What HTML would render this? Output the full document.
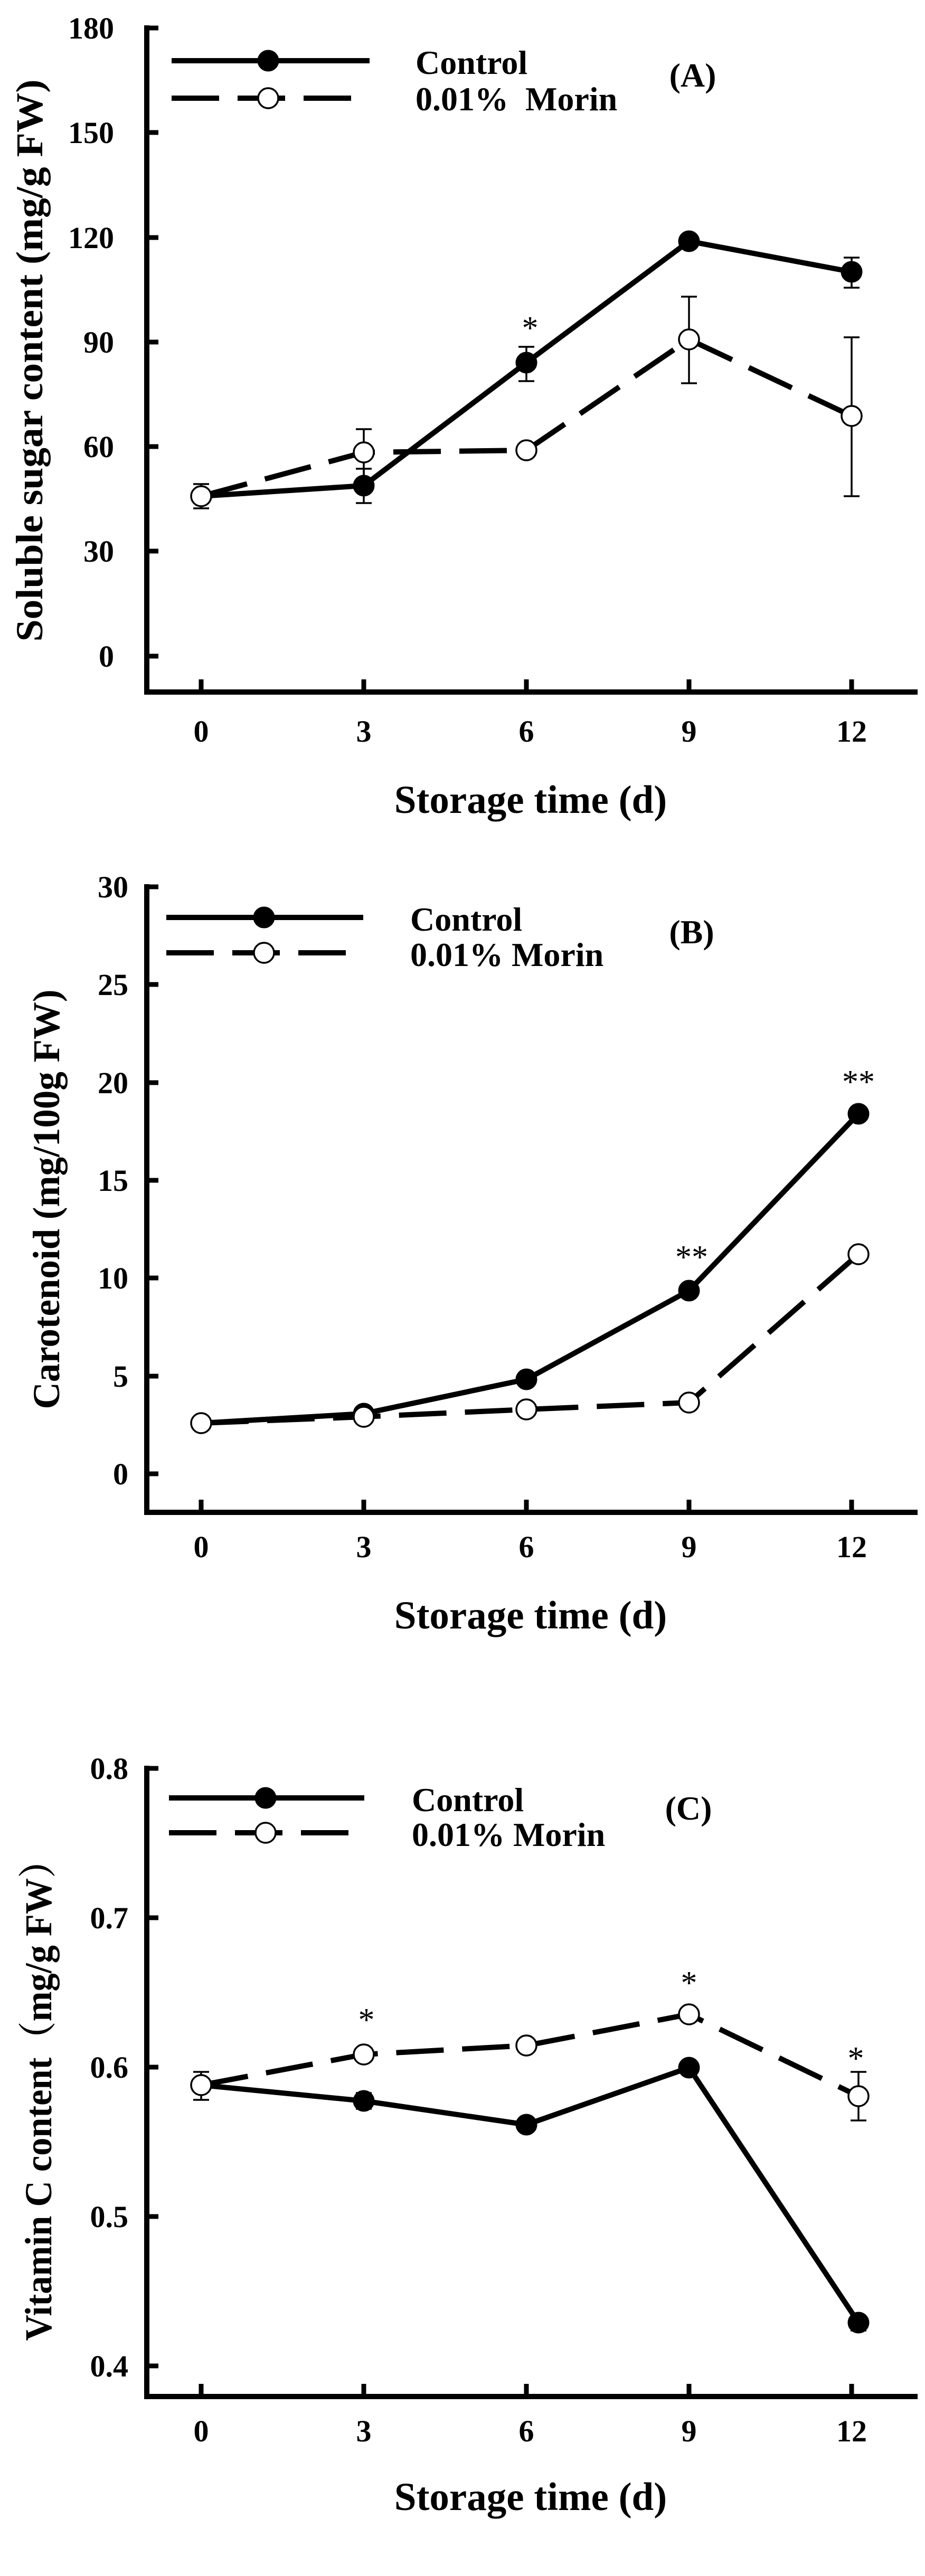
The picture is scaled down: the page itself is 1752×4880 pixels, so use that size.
<!DOCTYPE html>
<html><head><meta charset="utf-8"><style>
html,body{margin:0;padding:0;background:#fff;}
svg{display:block;}
text{font-family:"Liberation Serif","Noto Serif CJK SC",serif;font-weight:bold;fill:#000;}
.ax{stroke:#000;stroke-width:10;fill:none;stroke-linecap:square;}
.tk{stroke:#000;stroke-width:9;fill:none;}
.sl{stroke:#000;stroke-width:10;fill:none;stroke-linejoin:round;}
.dl{stroke:#000;stroke-width:10;fill:none;stroke-dasharray:90 35;}
.eb{stroke:#000;stroke-width:3.5;fill:none;}
.fm{fill:#000;stroke:#000;stroke-width:3;}
.om{fill:#fff;stroke:#000;stroke-width:3.5;}
.tl{font-size:58px;}
.xl{font-size:58px;text-anchor:middle;}
.lg{font-size:64px;}
.at{font-size:75px;text-anchor:middle;}
.st{font-size:62px;text-anchor:middle;font-weight:normal;}
</style></head><body>
<svg width="1752" height="4880" viewBox="0 0 1752 4880" xmlns="http://www.w3.org/2000/svg">
<!-- ================= Panel A ================= -->
<g>
<line class="ax" x1="278" y1="53" x2="278" y2="1311"/>
<line class="ax" x1="278" y1="1311" x2="1733" y2="1311"/>
<g class="tk">
<line x1="278" y1="53" x2="300" y2="53"/><line x1="278" y1="251" x2="300" y2="251"/>
<line x1="278" y1="450" x2="300" y2="450"/><line x1="278" y1="648" x2="300" y2="648"/>
<line x1="278" y1="846" x2="300" y2="846"/><line x1="278" y1="1044" x2="300" y2="1044"/>
<line x1="278" y1="1243" x2="300" y2="1243"/>
<line x1="381" y1="1287" x2="381" y2="1311"/><line x1="689" y1="1287" x2="689" y2="1311"/>
<line x1="997" y1="1287" x2="997" y2="1311"/><line x1="1305" y1="1287" x2="1305" y2="1311"/>
<line x1="1613" y1="1287" x2="1613" y2="1311"/>
</g>
<g class="tl" text-anchor="end">
<text x="216" y="73">180</text><text x="216" y="271">150</text><text x="216" y="470">120</text>
<text x="216" y="668">90</text><text x="216" y="866">60</text><text x="216" y="1064">30</text>
<text x="216" y="1263">0</text>
</g>
<g class="xl">
<text x="381" y="1405">0</text><text x="689" y="1405">3</text><text x="997" y="1405">6</text>
<text x="1305" y="1405">9</text><text x="1613" y="1405">12</text>
</g>
<text class="at" x="1005" y="1540">Storage time (d)</text>
<text font-size="72" text-anchor="middle" transform="translate(80,683) rotate(-90)" textLength="1065" lengthAdjust="spacingAndGlyphs">Soluble sugar content (mg/g FW)</text>
<!-- legend -->
<line class="sl" x1="325" y1="115" x2="700" y2="115"/>
<circle class="fm" cx="508" cy="115" r="19"/>
<line class="dl" x1="325" y1="186" x2="700" y2="186"/>
<circle class="om" cx="508" cy="186" r="19"/>
<text class="lg" x="787" y="140">Control</text>
<text class="lg" x="787" y="209" xml:space="preserve">0.01%  Morin</text>
<text class="lg" x="1312" y="164" text-anchor="middle">(A)</text>
<!-- error bars -->
<g class="eb">
<path d="M381 917V963M366 917H396M366 963H396"/>
<path d="M689 888V953M674 888H704M674 953H704"/>
<path d="M689 813V900M674 813H704"/>
<path d="M997 657V722M982 657H1012M982 722H1012"/>
<path d="M1613 488V545M1598 488H1628M1598 545H1628"/>
<path d="M1305 562V726M1290 562H1320M1290 726H1320"/>
<path d="M1613 639V940M1598 639H1628M1598 940H1628"/>
</g>
<polyline class="dl" points="381,940 689,857 997,853 1305,643 1613,788"/>
<polyline class="sl" points="381,940 689,920 997,687 1305,457 1613,515"/>
<g>
<circle class="fm" cx="381" cy="940" r="19"/><circle class="fm" cx="689" cy="920" r="19"/>
<circle class="fm" cx="997" cy="687" r="19"/><circle class="fm" cx="1305" cy="457" r="19"/>
<circle class="fm" cx="1613" cy="515" r="19"/>
<circle class="om" cx="381" cy="940" r="19"/><circle class="om" cx="689" cy="857" r="19"/>
<circle class="om" cx="997" cy="853" r="19"/><circle class="om" cx="1305" cy="643" r="19"/>
<circle class="om" cx="1613" cy="788" r="19"/>
</g>
<text class="st" x="1004" y="642">*</text>
</g>

<!-- ================= Panel B ================= -->
<g>
<line class="ax" x1="278" y1="1680" x2="278" y2="2865"/>
<line class="ax" x1="278" y1="2865" x2="1733" y2="2865"/>
<g class="tk">
<line x1="278" y1="1680" x2="300" y2="1680"/><line x1="278" y1="1865" x2="300" y2="1865"/>
<line x1="278" y1="2051" x2="300" y2="2051"/><line x1="278" y1="2236" x2="300" y2="2236"/>
<line x1="278" y1="2421" x2="300" y2="2421"/><line x1="278" y1="2607" x2="300" y2="2607"/>
<line x1="278" y1="2792" x2="300" y2="2792"/>
<line x1="381" y1="2841" x2="381" y2="2865"/><line x1="689" y1="2841" x2="689" y2="2865"/>
<line x1="997" y1="2841" x2="997" y2="2865"/><line x1="1305" y1="2841" x2="1305" y2="2865"/>
<line x1="1613" y1="2841" x2="1613" y2="2865"/>
</g>
<g class="tl" text-anchor="end">
<text x="243" y="1700">30</text><text x="243" y="1885">25</text><text x="243" y="2071">20</text>
<text x="243" y="2256">15</text><text x="243" y="2441">10</text><text x="243" y="2627">5</text>
<text x="243" y="2812">0</text>
</g>
<g class="xl">
<text x="381" y="2950">0</text><text x="689" y="2950">3</text><text x="997" y="2950">6</text>
<text x="1305" y="2950">9</text><text x="1613" y="2950">12</text>
</g>
<text class="at" x="1005" y="3085">Storage time (d)</text>
<text font-size="72" text-anchor="middle" transform="translate(112,2272) rotate(-90)" textLength="795" lengthAdjust="spacingAndGlyphs">Carotenoid (mg/100g FW)</text>
<line class="sl" x1="315" y1="1738" x2="688" y2="1738"/>
<circle class="fm" cx="500" cy="1738" r="19"/>
<line class="dl" x1="315" y1="1805" x2="688" y2="1805"/>
<circle class="om" cx="500" cy="1805" r="19"/>
<text class="lg" x="777" y="1763">Control</text>
<text class="lg" x="777" y="1830">0.01% Morin</text>
<text class="lg" x="1310" y="1787" text-anchor="middle">(B)</text>
<polyline class="dl" points="381,2696 689,2684 997,2670 1305,2657 1626,2376"/>
<polyline class="sl" points="381,2696 689,2678 997,2613 1305,2445 1626,2110"/>
<g>
<circle class="fm" cx="381" cy="2696" r="19"/><circle class="fm" cx="689" cy="2678" r="19"/>
<circle class="fm" cx="997" cy="2613" r="19"/><circle class="fm" cx="1305" cy="2445" r="19"/>
<circle class="fm" cx="1626" cy="2110" r="19"/>
<circle class="om" cx="381" cy="2696" r="19"/><circle class="om" cx="689" cy="2684" r="19"/>
<circle class="om" cx="997" cy="2670" r="19"/><circle class="om" cx="1305" cy="2657" r="19"/>
<circle class="om" cx="1626" cy="2376" r="19"/>
</g>
<text class="st" x="1310" y="2402">**</text>
<text class="st" x="1626" y="2070">**</text>
</g>

<!-- ================= Panel C ================= -->
<g>
<line class="ax" x1="278" y1="3350" x2="278" y2="4540"/>
<line class="ax" x1="278" y1="4540" x2="1733" y2="4540"/>
<g class="tk">
<line x1="278" y1="3350" x2="300" y2="3350"/><line x1="278" y1="3633" x2="300" y2="3633"/>
<line x1="278" y1="3916" x2="300" y2="3916"/><line x1="278" y1="4199" x2="300" y2="4199"/>
<line x1="278" y1="4482" x2="300" y2="4482"/>
<line x1="381" y1="4516" x2="381" y2="4540"/><line x1="689" y1="4516" x2="689" y2="4540"/>
<line x1="997" y1="4516" x2="997" y2="4540"/><line x1="1305" y1="4516" x2="1305" y2="4540"/>
<line x1="1613" y1="4516" x2="1613" y2="4540"/>
</g>
<g class="tl" text-anchor="end">
<text x="243" y="3370">0.8</text><text x="243" y="3653">0.7</text><text x="243" y="3936">0.6</text>
<text x="243" y="4219">0.5</text><text x="243" y="4502">0.4</text>
</g>
<g class="xl">
<text x="381" y="4625">0</text><text x="689" y="4625">3</text><text x="997" y="4625">6</text>
<text x="1305" y="4625">9</text><text x="1613" y="4625">12</text>
</g>
<text class="at" x="1005" y="4755">Storage time (d)</text>
<text font-size="72" text-anchor="middle" transform="translate(97,3962) rotate(-90)" textLength="945" lengthAdjust="spacingAndGlyphs">Vitamin C content（mg/g FW）</text>
<line class="sl" x1="320" y1="3406" x2="690" y2="3406"/>
<circle class="fm" cx="503" cy="3406" r="19"/>
<line class="dl" x1="320" y1="3472" x2="690" y2="3472"/>
<circle class="om" cx="503" cy="3472" r="19"/>
<text class="lg" x="780" y="3431">Control</text>
<text class="lg" x="780" y="3497">0.01% Morin</text>
<text class="lg" x="1304" y="3447" text-anchor="middle">(C)</text>
<g class="eb">
<path d="M381 3925V3978M366 3925H396M366 3978H396"/>
<path d="M689 3965V3995M674 3965H704M674 3995H704"/>
<path d="M1626 3925V4017M1611 3925H1641M1611 4017H1641"/>
<path d="M1626 4388V4415M1611 4388H1641M1611 4415H1641"/>
</g>
<polyline class="sl" points="381,3950 689,3980 997,4025 1305,3917 1626,4400"/>
<polyline class="dl" points="381,3950 689,3892 997,3875 1305,3816 1626,3971"/>
<g>
<circle class="fm" cx="381" cy="3950" r="19"/><circle class="fm" cx="689" cy="3980" r="19"/>
<circle class="fm" cx="997" cy="4025" r="19"/><circle class="fm" cx="1305" cy="3917" r="19"/>
<circle class="fm" cx="1626" cy="4400" r="19"/>
<circle class="om" cx="381" cy="3950" r="19"/><circle class="om" cx="689" cy="3892" r="19"/>
<circle class="om" cx="997" cy="3875" r="19"/><circle class="om" cx="1305" cy="3816" r="19"/>
<circle class="om" cx="1626" cy="3971" r="19"/>
</g>
<text class="st" x="694" y="3847">*</text>
<text class="st" x="1305" y="3777">*</text>
<text class="st" x="1621" y="3920">*</text>
</g>
</svg>
</body></html>
